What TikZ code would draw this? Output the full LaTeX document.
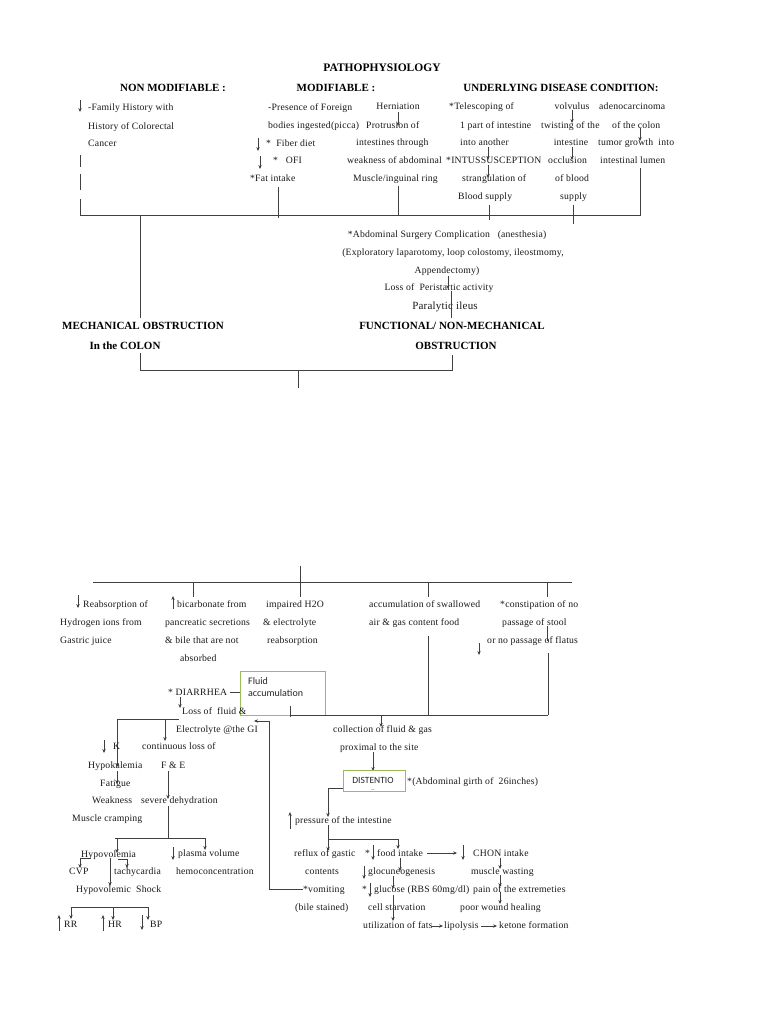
\documentclass[tikz,border=0pt]{standalone}
\usepackage{fontspec}
\setmainfont{Liberation Serif}
\newfontfamily\bodyfont[LetterSpace=2]{Liberation Serif}
\newfontfamily\calib{Carlito}
\usetikzlibrary{arrows.meta}
\tikzset{
  txt/.style={font=\bodyfont\fontsize{9.7}{12}\selectfont, inner sep=0pt, text=black!90},
  hdr/.style={font=\bfseries\fontsize{11}{13}\selectfont, inner sep=0pt, text=black},
  ln/.style={draw=black!75, line width=0.6pt},
  ar/.style={ln, -{Stealth[length=4pt,width=3.4pt]}},
  gbox/.style={draw={rgb,255:red,155;green,187;blue,89}, line width=0.8pt, fill=white},
  boxtxt/.style={font=\calib\fontsize{10}{12}\selectfont, inner sep=0pt, text=black!85}
}
\newcommand\txl[4]{\node[txt,anchor=base west] (#1) at (#2,#3) {#4};}
\newcommand\txc[4]{\node[txt,anchor=base] (#1) at (#2,#3) {#4};}
\newcommand\hdc[4]{\node[hdr,anchor=base] (#1) at (#2,#3) {#4};}
\begin{document}
\begin{tikzpicture}[x=1pt,y=-1pt]
\fill[white] (0,0) rectangle (768,1024);
\useasboundingbox (0,0) rectangle (768,1024);

% ---------- headers ----------
\node[hdr,anchor=base,font=\bfseries\fontsize{11.5}{13}\selectfont] (title) at (382,72) {PATHOPHYSIOLOGY};
\hdc{h1}{173}{92}{NON MODIFIABLE :}
\hdc{h2}{336}{92}{MODIFIABLE :}
\hdc{h3}{561}{92}{UNDERLYING DISEASE CONDITION:}

% ---------- top texts ----------
\txl{a1}{88}{111}{-Family History with}
\txl{a2}{88}{130}{History of Colorectal}
\txl{a3}{88}{147}{Cancer}
\txl{b1}{268}{111}{-Presence of Foreign}
\txl{b2}{268}{129}{bodies ingested(picca)}
\txl{b3}{266}{147}{*~~Fiber diet}
\txl{b4}{273}{164}{*~~~OFI}
\txl{b5}{250}{182}{*Fat intake}
\txc{c1}{398}{110}{Herniation}
\txl{c2}{366}{129}{Protrusion of}
\txl{c3}{356}{146}{intestines through}
\txl{c4}{347}{164}{weakness of abdominal}
\txl{c5}{353}{182}{Muscle/inguinal ring}
\txl{d1}{449}{110}{*Telescoping of}
\txl{d2}{460}{129}{1 part of intestine}
\txl{d3}{460}{146}{into another}
\txl{d4}{446}{164}{*INTUSSUSCEPTION}
\txl{d5}{462}{182}{strangulation of}
\txl{d6}{458}{200}{Blood supply}
\txc{e1}{572}{110}{volvulus}
\txl{e2}{541}{129}{twisting of the}
\txc{e3}{571}{146}{intestine}
\txl{e4}{548}{164}{occlusion}
\txl{e5}{555}{182}{of blood}
\txl{e6}{560}{200}{supply}
\txl{f1}{599}{110}{adenocarcinoma}
\txl{f2}{612}{129}{of the colon}
\txl{f3}{598}{146}{tumor growth~~into}
\txl{f4}{600}{164}{intestinal lumen}

% ---------- top arrows & lines ----------
\draw[ar] (80,100) -- (80,112);
\draw[ar] (258,138) -- (258,151);
\draw[ar] (260,156) -- (260,169);
\draw[ar] (398,112) -- (398,126);
\draw[ar] (488,147) -- (488,160);
\draw[ar] (488,165) -- (488,178);
\draw[ar] (572,110) -- (572,123);
\draw[ar] (572,147) -- (572,160);
\draw[ar] (640,128) -- (640,141);
\draw[ln] (80,155) -- (80,167);
\draw[ln] (80,174) -- (80,190);
\draw[ln] (80,199) -- (80,215) -- (640,215) -- (640,168);
\draw[ln] (278,187) -- (278,218);
\draw[ln] (398,186) -- (398,215);
\draw[ln] (489,205) -- (489,220);
\draw[ln] (573,205) -- (573,224);
\draw[ln] (140,215) -- (140,318);

% ---------- middle ----------
\txc{g1}{447}{237}{*Abdominal Surgery Complication~~~(anesthesia)}
\txc{g2}{453}{255}{(Exploratory laparotomy, loop colostomy, ileostmomy,}
\txc{g3}{447}{273}{Appendectomy)}
\txc{g4}{439}{290}{Loss of~~Peristaltic activity}
\node[txt,anchor=base,font=\bodyfont\fontsize{11}{12}\selectfont] (g5) at (445,309) {Paralytic ileus};
\draw[ar] (448,276) -- (448,289);
\draw[ln] (451,291) -- (451,318);
\hdc{m1}{143}{329}{MECHANICAL OBSTRUCTION}
\hdc{m2}{125}{349}{In the COLON}
\hdc{m3}{452}{329}{FUNCTIONAL/ NON-MECHANICAL}
\hdc{m4}{456}{349}{OBSTRUCTION}
\draw[ln] (140,353) -- (140,370) -- (452,370) -- (452,355);
\draw[ln] (298,370) -- (298,388);

% ---------- bottom branch line ----------
\draw[ln] (300,566) -- (300,597);
\draw[ln] (93,582) -- (572,582);
\draw[ln] (193,582) -- (193,597);
\draw[ln] (428,582) -- (428,597);
\draw[ln] (547,582) -- (547,597);

\txl{p1}{83}{607}{Reabsorption of}
\txl{p2}{60}{625}{Hydrogen ions from}
\txl{p3}{60}{643}{Gastric juice}
\txl{q1}{177}{607}{bicarbonate from}
\txl{q2}{165}{625}{pancreatic secretions}
\txl{q3}{165}{643}{\& bile that are not}
\txl{q4}{180}{661}{absorbed}
\txl{r1}{266}{607}{impaired H2O}
\txl{r2}{263}{625}{\& electrolyte}
\txl{r3}{267}{643}{reabsorption}
\txl{s1}{369}{607}{accumulation of swallowed}
\txl{s2}{369}{625}{air \& gas content food}
\txl{u1}{500}{607}{*constipation of no}
\txl{u2}{502}{625}{passage of stool}
\txl{u3}{487}{643}{or no passage of flatus}
\draw[ar] (78,595) -- (78,608);
\draw[ar] (173,609) -- (173,596);
\draw[ar] (479,643) -- (479,655);
\draw[ln] (547,626) -- (547,641);
\draw[ln] (428,636) -- (428,715);
\draw[ln] (548,653) -- (548,715);

% ---------- Fluid accumulation ----------
\draw[gbox] (240,671) rectangle (325,715);
\node[boxtxt,anchor=base west] (fa1) at (248,684) {Fluid};
\node[boxtxt,anchor=base west] (fa2) at (248,696) {accumulation};
\draw[ln] (290,706) -- (290,717);
\draw[ln] (290,715) -- (548,715);
\txl{x1}{168}{695}{* DIARRHEA}
\draw[ln] (230,692) -- (240,692);
\draw[ar] (180,697) -- (180,708);
\txl{x2}{182}{714}{Loss of~~fluid \&}
\txl{x3}{176}{732}{Electrolyte @the GI}

% ---------- left chain ----------
\draw[ln] (117,719) -- (179,719);
\draw[ar] (117,719) -- (117,767);
\draw[ar] (117,771) -- (117,784);
\draw[ar] (165,719) -- (165,741);
\draw[ar] (104,740) -- (104,753);
\txl{k1}{113}{749}{K}
\txl{k2}{142}{749}{continuous loss of}
\txl{k3}{88}{768}{Hypokalemia}
\txl{k4}{161}{768}{F \& E}
\txl{k5}{100}{786}{Fatigue}
\draw[ar] (168,771) -- (168,799);
\txl{k6}{92}{803}{Weakness}
\txl{k7}{141}{803}{severe dehydration}
\txl{k8}{72}{821}{Muscle cramping}
\draw[ln] (168,806) -- (168,838);
\draw[ln] (115,838) -- (205,838);
\draw[ar] (117,838) -- (117,853);
\draw[ar] (205,838) -- (205,850);
\txl{v1}{81}{857}{Hypovolemia}
\draw[ar] (173,847) -- (173,860);
\txl{v2}{178}{856}{plasma volume}
\draw[ar] (91,858) -| (80,868);
\draw[ar] (118,859) -| (127,868);
\draw[ar] (110,858) -- (110,886);
\txl{v3}{69}{874}{CVP}
\txl{v4}{114}{874}{tachycardia}
\txl{v5}{176}{874}{hemoconcentration}
\txl{v6}{76}{892}{Hypovolemic~~Shock}
\draw[ln] (71,907) -- (148,907);
\draw[ar] (71,907) -- (71,919);
\draw[ar] (113,907) -- (113,920);
\draw[ar] (148,907) -- (148,920);
\draw[ar] (59,931) -- (59,915);
\draw[ar] (103,931) -- (103,915);
\draw[ar] (142,915) -- (142,930);
\txl{w1}{64}{927}{RR}
\txl{w2}{108}{927}{HR}
\txl{w3}{150}{927}{BP}

% ---------- right chain ----------
\draw[ar] (381,715) -- (381,727);
\txl{y1}{333}{732}{collection of fluid \& gas}
\txl{y2}{340}{750}{proximal to the site}
\draw[ar] (373,752) -- (373,771);
\draw[gbox] (343,770) rectangle (405,791);
\node[boxtxt,anchor=base,font=\calib\fontsize{9.5}{11}\selectfont] (dis) at (373,783) {DISTENTIO};
\node[boxtxt,anchor=base,font=\calib\fontsize{6}{7}\selectfont] (dis2) at (373,790) {..};
\txl{y3}{407}{784}{*(Abdominal girth of~~26inches)}
\draw[ln] (343,788) -- (328,788);
\draw[ar] (328,788) -- (328,817);
\draw[ar] (290,829) -- (290,812);
\txl{y4}{295}{823}{pressure of the intestine}
\draw[ar] (328,825) -- (328,851);
\draw[ar] (328,839) -| (398,849);
\txl{z1}{294}{856}{reflux of gastic}
\txl{z2}{305}{874}{contents}
\txl{z3}{303}{892}{*vomiting}
\txl{z4}{295}{910}{(bile stained)}
\draw[ar] (303,889) -- (269,889) -- (269,721) -- (254,721);
\txl{z5}{365}{856}{*}
\draw[ar] (373,845) -- (373,860);
\txl{z6}{377}{856}{food intake}
\draw[ar] (427,853) -- (457,853);
\draw[ar] (463,845) -- (463,860);
\txl{z7}{473}{856}{CHON intake}
\draw[ar] (400,858) -- (400,871);
\draw[ar] (364,866) -- (364,879);
\txl{z8}{368}{874}{glocuneogenesis}
\txl{z9}{362}{892}{*}
\draw[ar] (370,883) -- (370,897);
\txl{z10}{374}{892}{glucose (RBS 60mg/dl)}
\draw[ar] (393,876) -- (393,889);
\txl{z11}{368}{910}{cell starvation}
\draw[ar] (393,895) -- (393,921);
\txl{z12}{363}{928}{utilization of fats}
\draw[ar] (431,926) -- (443,926);
\txl{z13}{444}{928}{lipolysis}
\draw[ar] (481,926) -- (497,926);
\txl{z14}{499}{928}{ketone formation}
\draw[ar] (500,858) -- (500,869);
\draw[ar] (500,875) -- (500,887);
\draw[ar] (500,892) -- (500,904);
\txl{z15}{471}{874}{muscle wasting}
\txl{z16}{473}{892}{pain of the extremeties}
\txl{z17}{460}{910}{poor wound healing}
\end{tikzpicture}
\end{document}
